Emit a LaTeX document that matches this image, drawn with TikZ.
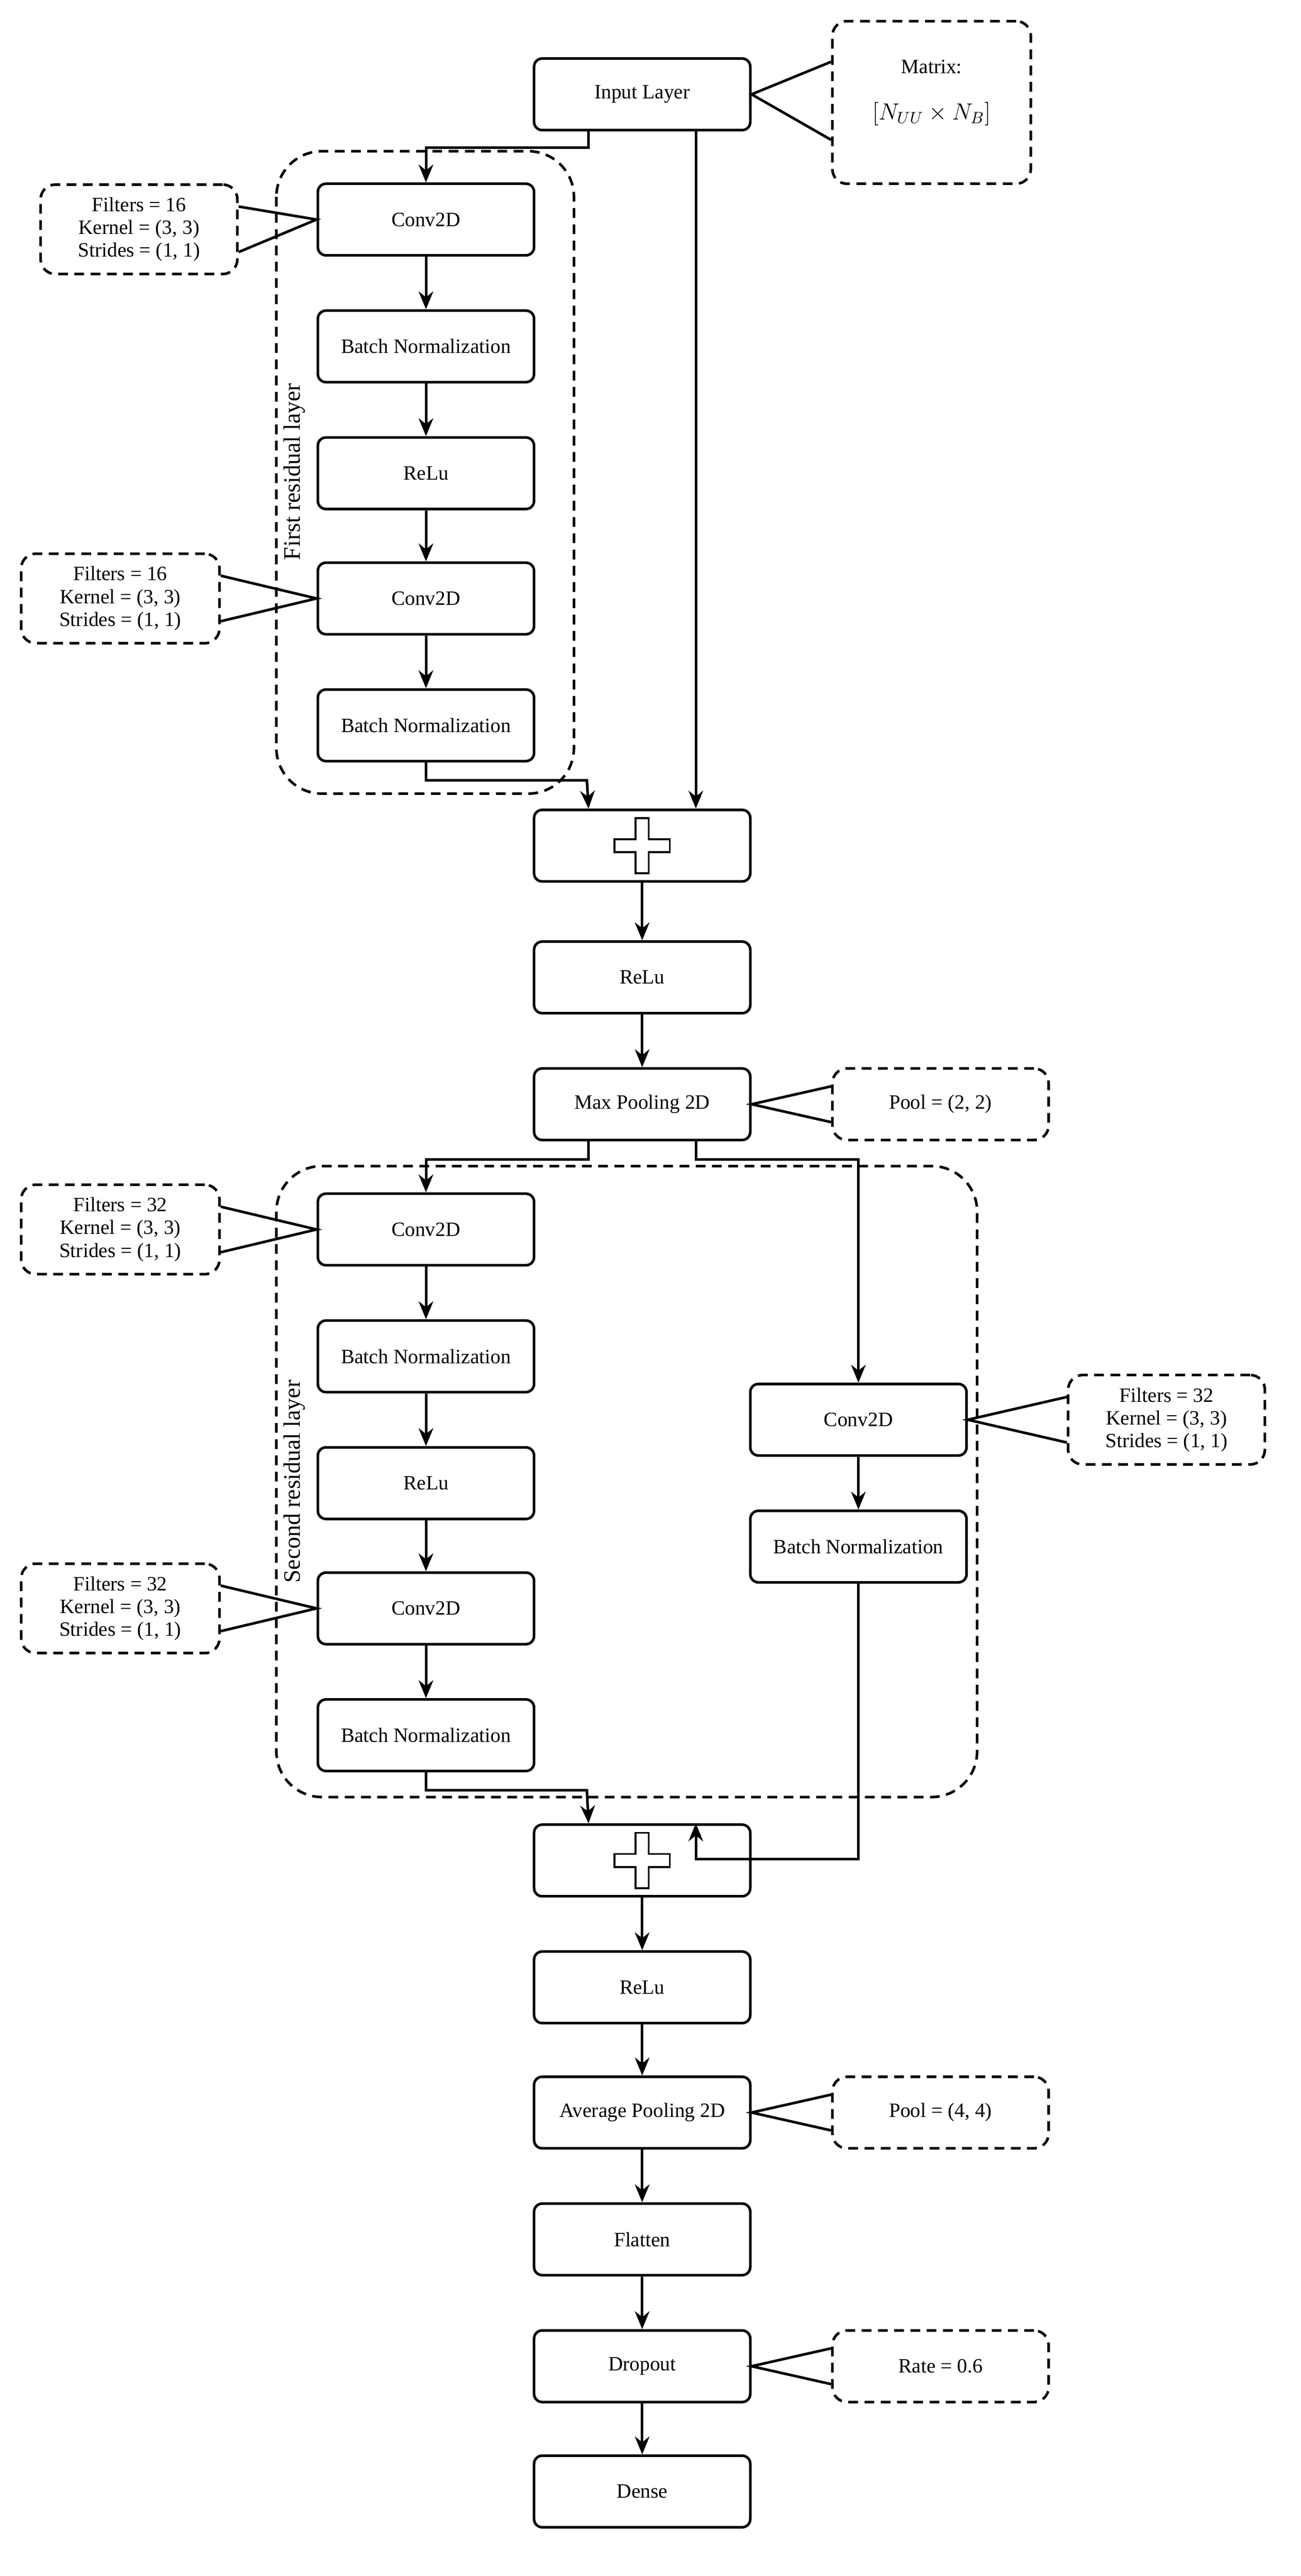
\documentclass[tikz,border=0pt]{standalone}
\usepackage{fontspec}
\setmainfont{Liberation Serif}
\usetikzlibrary{arrows.meta}
\begin{document}
\begin{tikzpicture}[x=1pt,y=-1pt,
  blk/.style={draw,line width=1.6pt,rounded corners=5pt,minimum width=133pt,minimum height=44pt,inner sep=0pt,font=\fontsize{12.5}{14}\selectfont},
  note/.style={draw,line width=1.6pt,dash pattern=on 6pt off 4pt,rounded corners=9pt,inner sep=0pt,align=center,font=\fontsize{12.5}{14}\selectfont},
  grp/.style={draw,line width=1.6pt,dash pattern=on 6pt off 4pt,rounded corners=28pt},
  ar/.style={line width=1.6pt,-{Stealth[length=11pt,width=9pt]}},
  ln/.style={line width=1.6pt}]
\useasboundingbox (0,0) rectangle (800,1584);
% groups
\draw[grp] (170,93) rectangle (353,488);
\draw[grp] (170,717) rectangle (601,1105);
\node[rotate=90,font=\fontsize{14.5}{16}\selectfont] (lab1) at (181,290) {First residual layer};
\node[rotate=90,font=\fontsize{14.5}{16}\selectfont] (lab2) at (181,911) {Second residual layer};
% main blocks
\node[blk] (in) at (395,58) {Input Layer};
\node[blk] (c1) at (262,135) {Conv2D};
\node[blk] (b1) at (262,213) {Batch Normalization};
\node[blk] (r1) at (262,291) {ReLu};
\node[blk] (c2) at (262,368) {Conv2D};
\node[blk] (b2) at (262,446) {Batch Normalization};
\node[blk] (add1) at (395,520) {};
\node[blk] (r2) at (395,601) {ReLu};
\node[blk] (mp) at (395,679) {Max Pooling 2D};
\node[blk] (c3) at (262,756) {Conv2D};
\node[blk] (b3) at (262,834) {Batch Normalization};
\node[blk] (r3) at (262,912) {ReLu};
\node[blk] (c4) at (262,989) {Conv2D};
\node[blk] (b4) at (262,1067) {Batch Normalization};
\node[blk] (c5) at (528,873) {Conv2D};
\node[blk] (b5) at (528,951) {Batch Normalization};
\node[blk] (add2) at (395,1144) {};
\node[blk] (r4) at (395,1222) {ReLu};
\node[blk] (ap) at (395,1299) {Average Pooling 2D};
\node[blk] (fl) at (395,1377) {Flatten};
\node[blk] (dr) at (395,1455) {Dropout};
\node[blk] (de) at (395,1532) {Dense};
% plus signs
\foreach \c in {add1,add2}{
 \draw[line width=1.2pt] ([shift={(-4,-17)}]\c.center) -- ++(8,0) -- ++(0,13) -- ++(13,0) -- ++(0,8) -- ++(-13,0) -- ++(0,13) -- ++(-8,0) -- ++(0,-13) -- ++(-13,0) -- ++(0,-8) -- ++(13,0) -- cycle;}
% notes
\node[note,minimum width=122pt,minimum height=100pt] (m) at (573,63) {};
\node[font=\fontsize{12.5}{14}\selectfont] (mt) at (573,41) {Matrix:};
\node[font=\fontsize{14}{16}\selectfont] (mf) at (573,70) {$[N_{UU}\times N_B]$};
\node[note,minimum width=121pt,minimum height=55pt] (n1) at (85.5,141) {Filters = 16\\Kernel = (3, 3)\\Strides = (1, 1)};
\node[note,minimum width=122pt,minimum height=55pt] (n2) at (74,368) {Filters = 16\\Kernel = (3, 3)\\Strides = (1, 1)};
\node[note,minimum width=133pt,minimum height=44pt] (n3) at (578.5,679) {Pool = (2, 2)};
\node[note,minimum width=122pt,minimum height=55pt] (n4) at (74,756) {Filters = 32\\Kernel = (3, 3)\\Strides = (1, 1)};
\node[note,minimum width=122pt,minimum height=55pt] (n5) at (74,989) {Filters = 32\\Kernel = (3, 3)\\Strides = (1, 1)};
\node[note,minimum width=121pt,minimum height=55pt] (n6) at (717.5,873) {Filters = 32\\Kernel = (3, 3)\\Strides = (1, 1)};
\node[note,minimum width=133pt,minimum height=44pt] (n7) at (578.5,1299) {Pool = (4, 4)};
\node[note,minimum width=133pt,minimum height=44pt] (n8) at (578.5,1455) {Rate = 0.6};
% callout wedges
\draw[ln] ([yshift=-23pt]m.west) -- (in.east) -- ([yshift=25pt]m.west);
\draw[ln] ([yshift=-14pt]n1.east) -- (c1.west) -- ([yshift=14pt]n1.east);
\draw[ln] ([yshift=-14pt]n2.east) -- (c2.west) -- ([yshift=14pt]n2.east);
\draw[ln] ([yshift=-11pt]n3.west) -- (mp.east) -- ([yshift=11pt]n3.west);
\draw[ln] ([yshift=-14pt]n4.east) -- (c3.west) -- ([yshift=14pt]n4.east);
\draw[ln] ([yshift=-14pt]n5.east) -- (c4.west) -- ([yshift=14pt]n5.east);
\draw[ln] ([yshift=-14pt]n6.west) -- (c5.east) -- ([yshift=14pt]n6.west);
\draw[ln] ([yshift=-11pt]n7.west) -- (ap.east) -- ([yshift=11pt]n7.west);
\draw[ln] ([yshift=-11pt]n8.west) -- (dr.east) -- ([yshift=11pt]n8.west);
% connectors
\draw[ar] ([xshift=-33pt]in.south) |- ++(0,10) -| (c1.north);
\draw[ar] ([xshift=33pt]in.south) -- ([xshift=33pt]add1.north);
\draw[ar] (c1) -- (b1);
\draw[ar] (b1) -- (r1);
\draw[ar] (r1) -- (c2);
\draw[ar] (c2) -- (b2);
\draw[ar] (b2.south) |- ++(99,11) -- ([xshift=-33pt]add1.north);
\draw[ar] (add1) -- (r2);
\draw[ar] (r2) -- (mp);
\draw[ar] ([xshift=-33pt]mp.south) |- ++(0,11) -| (c3.north);
\draw[ar] ([xshift=33pt]mp.south) |- ++(0,11) -| (c5.north);
\draw[ar] (c3) -- (b3);
\draw[ar] (b3) -- (r3);
\draw[ar] (r3) -- (c4);
\draw[ar] (c4) -- (b4);
\draw[ar] (c5) -- (b5);
\draw[ar] (b4.south) |- ++(99,11) -- ([xshift=-33pt]add2.north);
\draw[ar] (b5.south) |- ([xshift=33pt,yshift=-22pt]add2.north) -- ([xshift=33pt]add2.north);
\draw[ar] (add2) -- (r4);
\draw[ar] (r4) -- (ap);
\draw[ar] (ap) -- (fl);
\draw[ar] (fl) -- (dr);
\draw[ar] (dr) -- (de);
\end{tikzpicture}
\end{document}
